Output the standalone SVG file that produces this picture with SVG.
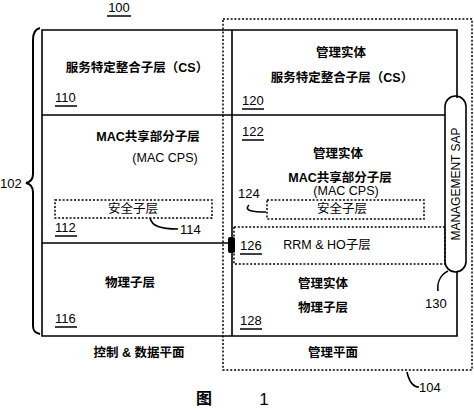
<svg xmlns="http://www.w3.org/2000/svg" width="474" height="411" viewBox="0 0 474 411">
<style>
.s{fill:none;stroke:#000;stroke-width:1.6}
.d{fill:none;stroke:#000;stroke-width:1.5;stroke-dasharray:2 1.8}
.t{font-family:"Liberation Sans","Noto Sans CJK SC",sans-serif;font-size:12.5px;font-weight:600;fill:#000}
.c{text-anchor:middle}
.n{font-family:"Liberation Sans",sans-serif;font-size:13px;fill:#000}
.u{stroke:#000;stroke-width:1.5}
</style>
<rect width="474" height="411" fill="#fff"/>
<g id="management-plane">
<rect class="d" x="223" y="19" width="249" height="351"/>
<text class="t c" x="333" y="357">管理平面</text>
</g>
<g id="control-data-plane">
<text class="t c" x="139" y="357">控制 &amp; 数据平面</text>
</g>
<g id="frame">
<path class="s" d="M457,98 V30 H42 V336 H457 V272 M232,30 V336"/>
<path class="s" d="M42,115 H445 M42,243 H229"/>
</g>
<g id="n110">
<text class="t c" x="137" y="72">服务特定整合子层（CS）</text>
<text class="n" x="55" y="102">110</text>
<line class="u" x1="55" y1="106" x2="77" y2="106"/>
</g>
<g id="n112">
<text class="t c" x="148" y="141">MAC共享部分子层</text>
<text class="t c" x="165" y="162" style="font-weight:normal">(MAC CPS)</text>
<text class="n" x="55" y="232">112</text>
<line class="u" x1="55" y1="236" x2="77" y2="236"/>
</g>
<g id="n114">
<rect class="d" x="55" y="200" width="157" height="18"/>
<text class="t c" x="133" y="213" style="font-weight:normal">安全子层</text>
<text class="n" x="180" y="234">114</text>
</g>
<g id="n116">
<text class="t c" x="130" y="287">物理子层</text>
<text class="n" x="55" y="323">116</text>
<line class="u" x1="55" y1="327" x2="77" y2="327"/>
</g>
<g id="n120">
<text class="t c" x="341" y="57">管理实体</text>
<text class="t c" x="342" y="82">服务特定整合子层（CS）</text>
<text class="n" x="242" y="105">120</text>
<line class="u" x1="242" y1="109" x2="264" y2="109"/>
</g>
<g id="n122">
<text class="n" x="242" y="136">122</text>
<line class="u" x1="242" y1="140" x2="264" y2="140"/>
<text class="t c" x="338" y="158">管理实体</text>
<text class="t c" x="340" y="182">MAC共享部分子层</text>
<text class="t c" x="346" y="195" style="font-weight:normal">(MAC CPS)</text>
</g>
<g id="n124">
<rect class="d" x="267" y="200" width="157" height="19"/>
<text class="t c" x="342" y="213" style="font-weight:normal">安全子层</text>
<text class="n" x="238" y="198">124</text>
</g>
<g id="n126">
<rect class="d" x="234" y="227" width="211" height="37"/>
<text class="n" x="240" y="250">126</text>
<line class="u" x1="240" y1="254" x2="262" y2="254"/>
<text class="t c" x="327" y="249" style="font-weight:normal">RRM &amp; HO子层</text>
</g>
<g id="n128">
<text class="t c" x="323" y="288">管理实体</text>
<text class="t c" x="323" y="312">物理子层</text>
<text class="n" x="240" y="325">128</text>
<line class="u" x1="240" y1="329" x2="262" y2="329"/>
</g>
<g id="n130">
<rect class="s" x="445" y="96" width="21" height="176" rx="10.5" fill="#fff"/>
<text class="n c" transform="translate(459.5,184) rotate(-90)" style="font-size:12px">MANAGEMENT SAP</text>
<text class="n" x="425" y="308">130</text>
</g>
<g id="labels">
<text class="n c" x="119" y="12">100</text>
<line class="u" x1="107" y1="16" x2="131" y2="16"/>
<text class="n" x="0" y="188">102</text>
<text class="n" x="419" y="392">104</text>
<text x="204" y="404" text-anchor="middle" style="font-family:'Noto Sans CJK SC',sans-serif;font-size:16px;font-weight:bold">图</text>
<text x="264" y="405" text-anchor="middle" style="font-family:'Liberation Sans',sans-serif;font-size:17px">1</text>
</g>
<g id="connectors">
<path d="M40,28 C35,29 33,33 33,40 V174 C33,180 30,182 26,183 C30,184 33,186 33,192 V326 C33,331 35,333 40,334" fill="none" stroke="#000" stroke-width="2"/>
<rect x="228" y="237" width="7" height="16" rx="2" fill="#000"/>
<path class="s" d="M150,218 C152,226 160,229 178,229"/>
<path class="s" d="M249,205 C243,211 254,212 266,212"/>
<path class="s" d="M448,271 C440,275 437,283 438,291"/>
<path class="s" d="M407,372 C409,381 413,387 419,387"/>
</g>
</svg>
